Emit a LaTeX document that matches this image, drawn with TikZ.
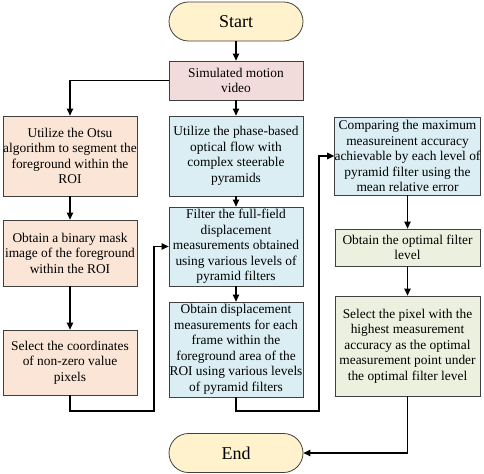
\documentclass[tikz,border=0pt]{standalone}
\usepackage{fontspec}
\setmainfont{Liberation Serif}
\usetikzlibrary{arrows.meta}
\definecolor{termfill}{HTML}{FFF2CC}
\definecolor{videofill}{HTML}{F2DCDB}
\definecolor{otsufill}{HTML}{FBE5D6}
\definecolor{flowfill}{HTML}{DAEEF3}
\definecolor{bestfill}{HTML}{EBF1DE}
\definecolor{edgegray}{HTML}{404040}

\begin{document}
\begin{tikzpicture}[x=1bp,y=-1bp,>={Triangle[length=7bp,width=6.5bp]},
    box/.style={draw=edgegray,line width=0.8bp,inner xsep=0bp,inner ysep=1bp,minimum width=134bp,align=center,font=\fontsize{13.4bp}{15.5bp}\selectfont},
    wide box/.style={box,minimum width=145bp},
    term/.style={draw=edgegray,line width=0.8bp,fill=termfill,rounded corners=19.5bp,minimum width=134bp,minimum height=39bp,font=\fontsize{18bp}{20bp}\selectfont},
    flow/.style={->,line width=1.1bp}]
  \useasboundingbox (0,0) rectangle (484,474);

  % top
  \node[term] (start) at (236,21.5) {Start};
  \node[box,fill=videofill,minimum height=39bp] (video) at (236,80.5) {Simulated motion\\video};

  % left column
  \node[box,fill=otsufill,minimum height=80bp] (otsu) at (70,156) {Utilize the Otsu\\algorithm to segment the\\foreground within the\\ROI};
  \node[box,fill=otsufill,minimum height=66bp] (mask) at (70,253) {Obtain a binary mask\\image of the foreground\\within the ROI};
  \node[box,fill=otsufill,minimum height=65bp] (coords) at (70,362.5) {Select the coordinates\\of non-zero value\\pixels};

  % middle column
  \node[box,fill=flowfill,minimum height=80bp] (phase) at (236,156) {Utilize the phase-based\\optical flow with\\complex steerable\\pyramids};
  \node[box,fill=flowfill,minimum height=79bp] (filter) at (236,246.5) {Filter the full-field\\displacement\\measurements obtained\\using various levels of\\pyramid filters};
  \node[box,fill=flowfill,minimum height=95bp] (frames) at (236,349.5) {Obtain displacement\\measurements for each\\frame within the\\foreground area of the\\ROI using various levels\\of pyramid filters};

  % right column
  \node[wide box,fill=flowfill,minimum height=78bp] (compare) at (407.5,156) {Comparing the maximum\\measureinent accuracy\\achievable by each level of\\pyramid filter using the\\mean relative error};
  \node[wide box,fill=bestfill,minimum height=37bp] (level) at (407.5,247.5) {Obtain the optimal filter\\level};
  \node[wide box,fill=bestfill,minimum height=100bp] (pixel) at (407.5,346) {Select the pixel with the\\highest measurement\\accuracy as the optimal\\measurement point under\\the optimal filter level};

  \node[term] (end) at (236,453) {End};

  \coordinate (turnL) at (154,411);
  \coordinate (turnM) at (319,411);

  \draw[flow] (start) -- (video);
  \draw[flow] (video.west) -| (otsu.north);
  \draw[flow] (video) -- (phase);
  \draw[flow] (otsu) -- (mask);
  \draw[flow] (mask) -- (coords);
  \draw[flow] (coords.south) |- (turnL) |- (filter.west);
  \draw[flow] (phase) -- (filter);
  \draw[flow] (filter) -- (frames);
  \draw[flow] (frames.south) |- (turnM) |- (compare.west);
  \draw[flow] (compare) -- (level);
  \draw[flow] (level) -- (pixel);
  \draw[flow] (pixel.south) |- (end.east);
\end{tikzpicture}
\end{document}
